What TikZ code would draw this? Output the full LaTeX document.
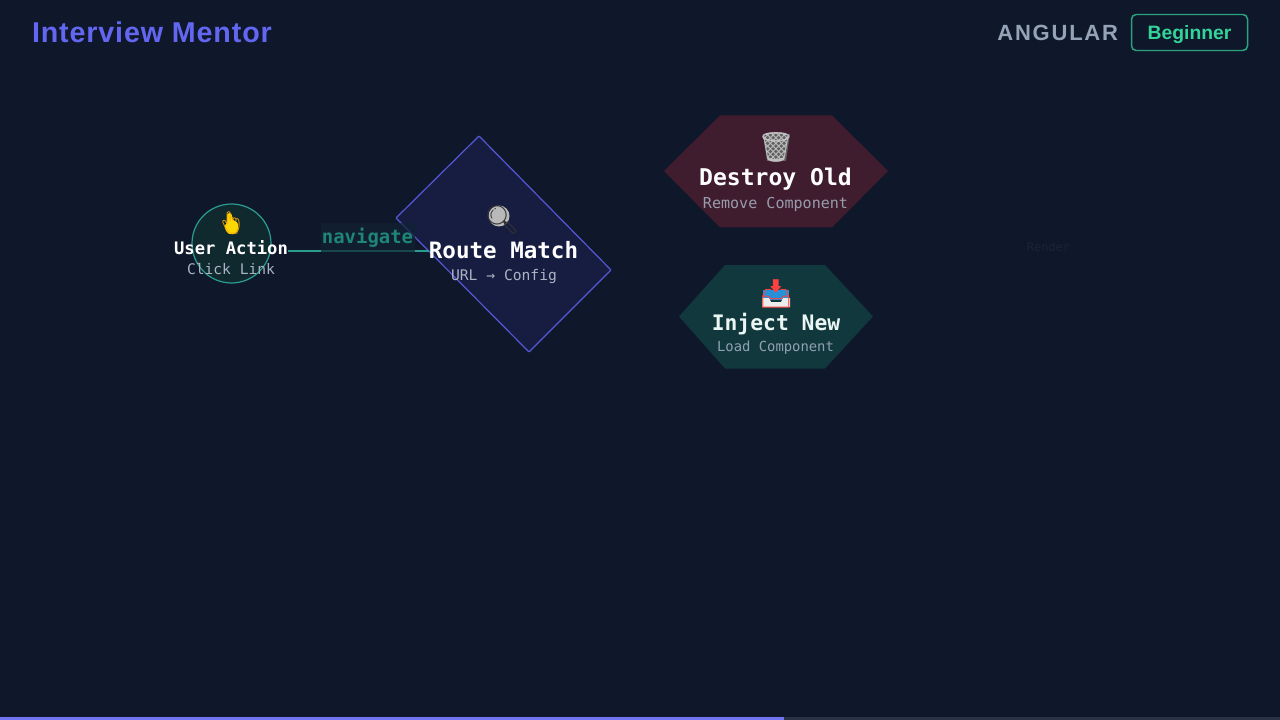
\documentclass[tikz,border=0pt]{standalone}
\usepackage{fontspec}
\usetikzlibrary{calc}
\setmainfont{Liberation Sans}
\newfontfamily\headfont[LetterSpace=3]{Liberation Sans}
\newfontfamily\widefont[LetterSpace=8]{Liberation Sans}
\newfontfamily\monofont{DejaVu Sans Mono}
\newfontfamily\emojifont{Noto Emoji}
\definecolor{bgc}{HTML}{0F172A}
\definecolor{teal1}{HTML}{2A9D8F}
\definecolor{tealfill}{HTML}{10292F}
\definecolor{indigoc}{HTML}{6366F1}
\definecolor{rmfill}{HTML}{171D41}
\definecolor{rmline}{HTML}{5557D6}
\definecolor{redfill}{HTML}{3F1C2E}
\definecolor{greenfill}{HTML}{11383C}
\definecolor{subc}{HTML}{A9B3C4}
\definecolor{angc}{HTML}{94A3B8}
\definecolor{begc}{HTML}{34D399}
\definecolor{navc}{HTML}{1F8577}
\tikzset{
  px/.style={x=0.75pt,y=-0.75pt},
  txt/.style={inner sep=0pt,outer sep=0pt,anchor=center},
  ttl/.style={txt,text=white,font=\monofont\bfseries\fontsize{#1}{#1}\selectfont},
  sub/.style={txt,text=subc,font=\monofont\fontsize{#1}{#1}\selectfont},
  emo/.style={txt,font=\emojifont\fontsize{#1}{#1}\selectfont},
  conn/.style={draw=teal1,line width=1.5pt},
}
\begin{document}
\begin{tikzpicture}[px]
\useasboundingbox (0,0) rectangle (1280,720);
\fill[bgc] (0,0) rectangle (1280,720);
% header
\node[txt,anchor=west,text=indigoc,font=\headfont\bfseries\fontsize{21.5}{21.5}\selectfont] (brand) at (32,32) {Interview Mentor};
\node[txt,anchor=east,text=angc,font=\widefont\bfseries\fontsize{16.5}{16.5}\selectfont] (topic) at (1118,33) {ANGULAR};
\node[draw=begc!75!bgc,line width=1.1pt,rounded corners=3.5pt,minimum width=87pt,minimum height=27pt,inner sep=0pt,text depth=0pt,text=begc,font=\bfseries\fontsize{14.5}{14.5}\selectfont] (level) at (1189.5,32.5) {Beginner};
% shapes
\filldraw[fill=tealfill,draw=teal1,line width=0.9pt] (231.5,243.5) circle (39.5);
\filldraw[fill=rmfill,draw=rmline,line width=0.9pt,rounded corners=0.5pt] (479,136) -- (611,270) -- (529,352) -- (396,218) -- cycle;
\fill[redfill] (664,171) -- (720,115.5) -- (832,115.5) -- (888,171) -- (832,227.5) -- (720,227.5) -- cycle;
\fill[greenfill] (679,316.5) -- (725,265) -- (825,265) -- (873,316.5) -- (825,368.5) -- (725,368.5) -- cycle;
% emoji colour underlays
\fill[yellow!75!orange,rounded corners=2pt] (227,213) -- (232,213) -- (232,220) -- (238,222) -- (238,231) -- (233,235) -- (227,233) -- (224,226) -- (227,224) -- cycle;
\fill[gray!55!white] (499,216) circle (10.5);
\fill[gray!75!black] (763,134) -- (790,134) -- (786,161) -- (767,161) -- cycle;
\fill[blue!40!cyan!70!gray] (763,290) -- (789,290) -- (789,300) -- (763,300) -- cycle;
\fill[gray!15!white] (762,298) -- (769,298) -- (771,302) -- (781,302) -- (783,298) -- (790,298) -- (790,307) -- (762,307) -- cycle;
% titles
\node[ttl=12.9] (usertitle) at (231,248) {User Action};
\node[sub=10.95] (usersub) at (231,269) {Click Link};
\node[emo=16.5,text=orange!70!yellow] (useric) at (231,223) {^^^^^^01f446};
\node[ttl=16.9] (routetitle) at (503.5,250.5) {Route Match};
\node[sub=11] (routesub) at (504,277) {URL → Config};
\node[emo=21,text=black!80] (routeic) at (502,220) {^^^^^^01f50d};
\node[ttl=17.3] (destroytitle) at (775.5,179) {Destroy Old};
\node[sub=11.3,text=subc!85!redfill] (destroysub) at (775.5,204) {Remove Component};
\node[emo=22,text=gray!50] (destroyic) at (776,147) {^^^^^^01f5d1};
\node[ttl=16,text=white!90!teal1] (injecttitle) at (776,324) {Inject New};
\node[sub=10.4,text=subc!85!greenfill] (injectsub) at (775.5,348) {Load Component};
\node[emo=21,text=red!75!white] (injectic) at (776,294) {^^^^^^01f4e5};
% connector
\draw[conn] (usertitle.east |- routetitle.west) -- (routetitle.west);
\node[fill=bgc!92!teal1,fill opacity=0.7,text opacity=1,inner sep=0pt,minimum width=70.5pt,minimum height=21.5pt,text=navc,font=\monofont\bfseries\fontsize{14.2}{14.2}\selectfont] (navlabel) at (367.5,237.5) {navigate};
% faint next node
\node[txt,text=white,text opacity=0.05,font=\monofont\fontsize{9}{9}\selectfont] (faint) at (1048.5,247) {Render};
% progress
\fill[angc!20!bgc] (0,717) rectangle (1280,720);
\fill[indigoc!90!white] (0,717) rectangle (784,720);
\end{tikzpicture}
\end{document}
